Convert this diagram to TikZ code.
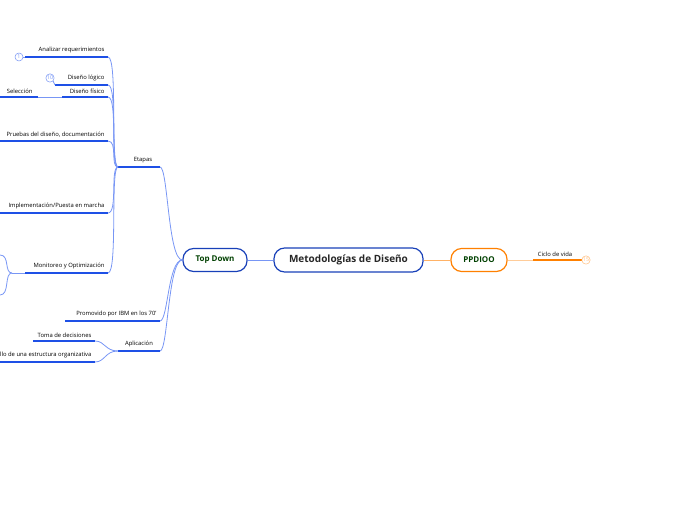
\documentclass[tikz,border=0pt]{standalone}
\usepackage{fontspec}
\setmainfont{Open Sans}
\definecolor{ublue}{RGB}{30,80,230}
\definecolor{cblue}{RGB}{120,150,245}
\begin{document}
\begin{tikzpicture}[x=0.75pt,y=-0.75pt,
 lbl/.style={font=\fontsize{4.4}{5}\selectfont,inner sep=1pt,anchor=south east},
 ul/.style={draw=ublue,line width=1pt},
 cn/.style={draw=cblue,line width=0.6pt},
 bub/.style={draw=cblue,circle,fill=white,inner sep=0.3pt,minimum size=6pt,font=\fontsize{4}{4}\selectfont,text=cblue}]
\useasboundingbox (0,0) rectangle (697,520);
\node[draw=ublue!80!black,line width=0.9pt,rounded corners=8pt,minimum width=149*0.75pt,minimum height=24*0.75pt,font=\bfseries\fontsize{7.5}{9}\selectfont,text=black!85] (m) at (348.5,260) {Metodologías de Diseño};
\node[draw=ublue!80!black,line width=0.9pt,rounded corners=8pt,minimum width=64*0.75pt,minimum height=23*0.75pt,font=\bfseries\fontsize{6}{8}\selectfont,text=green!25!black] (td) at (215,260) {Top Down};
\node[draw=orange,line width=0.9pt,rounded corners=8pt,minimum width=56*0.75pt,minimum height=23*0.75pt,font=\bfseries\fontsize{6}{8}\selectfont,text=green!25!black] (pp) at (479,260) {PPDIOO};
\draw[cn] (m.west) -- (td.east);
\draw[draw=orange!60,line width=0.6pt] (m.east) -- (pp.west);
% PPDIOO
\coordinate (cva) at (533,260); \coordinate (cvb) at (582,260);
\draw[draw=orange!40,line width=0.6pt] (pp.east) -- (cva);
\draw[draw=orange,line width=1pt] (cva) -- (cvb);
\node[lbl,anchor=south] at (555,258) {Ciclo de vida};
\node[bub,draw=orange!50,text=orange!50] (b15) at (586,260) {15};
% level 1
\coordinate (et0) at (160,167); \coordinate (et1) at (118,167);
\coordinate (pr0) at (160,321); \coordinate (pr1) at (65,321);
\coordinate (ap0) at (160,351); \coordinate (ap1) at (118,351);
\draw[cn] (td.west) .. controls (168,260) and (168,167) .. (et0);
\draw[cn] (td.west) .. controls (168,260) and (168,321) .. (pr0);
\draw[cn] (td.west) .. controls (168,260) and (168,351) .. (ap0);
\draw[ul] (et0)--(et1); \node[lbl,anchor=south] at (143,165) {Etapas};
\draw[ul] (pr0)--(pr1); \node[lbl] at (158,319) {Promovido por IBM en los 70'};
\draw[ul] (ap0)--(ap1); \node[lbl,anchor=south] at (139,349) {Aplicación};
% Etapas children
\foreach \n/\y/\x/\t in {a/57/25/{Analizar requerimientos},b/85/55/{Diseño lógico},c/97/62/{Diseño físico},d/141/0/{Pruebas del diseño, documentación},e/213/0/{Implementación/Puesta en marcha},f/273/25/{Monitoreo y Optimización}}{
 \coordinate (\n0) at (108,\y); \coordinate (\n1) at (\x,\y);
 \draw[cn] (et1) .. controls (110,167) and (118,\y) .. (\n0);
 \draw[ul] (\n0)--(\n1);
 \node[lbl] at (106,\y-2) {\t};}
\node[bub] (b1) at (19,57) {1};
\node[bub] (b10) at (50,78) {10};
\draw[cn] (a1) -- (b1.east);
\coordinate (b10a) at (55,85);
\draw[cn] (b10a) -- (b10.south east);
\coordinate (s0) at (38,97); \coordinate (s1) at (0,97);
\draw[cn] (c1) -- (s0); \draw[ul] (s0)--(s1);
\node[lbl] at (34,95) {Selección};
% Monitoreo children
\coordinate (f2) at (12,273);
\draw[cn] (f1) -- (f2);
\coordinate (g0) at (0,255); \coordinate (h0) at (0,295);
\draw[cn] (f2) .. controls (4,273) and (10,255) .. (g0);
\draw[cn] (f2) .. controls (4,273) and (10,295) .. (h0);
% Aplicacion children
\coordinate (i0) at (95,341); \coordinate (i1) at (33,341);
\coordinate (j0) at (95,362); \coordinate (j1) at (0,362);
\draw[cn] (ap1) .. controls (105,351) and (105,341) .. (i0);
\draw[cn] (ap1) .. controls (105,351) and (105,362) .. (j0);
\draw[ul] (i0)--(i1); \node[lbl] at (93,339) {Toma de decisiones};
\draw[ul] (j0)--(j1); \node[lbl] at (93,360) {Desarrollo de una estructura organizativa};
\end{tikzpicture}
\end{document}
